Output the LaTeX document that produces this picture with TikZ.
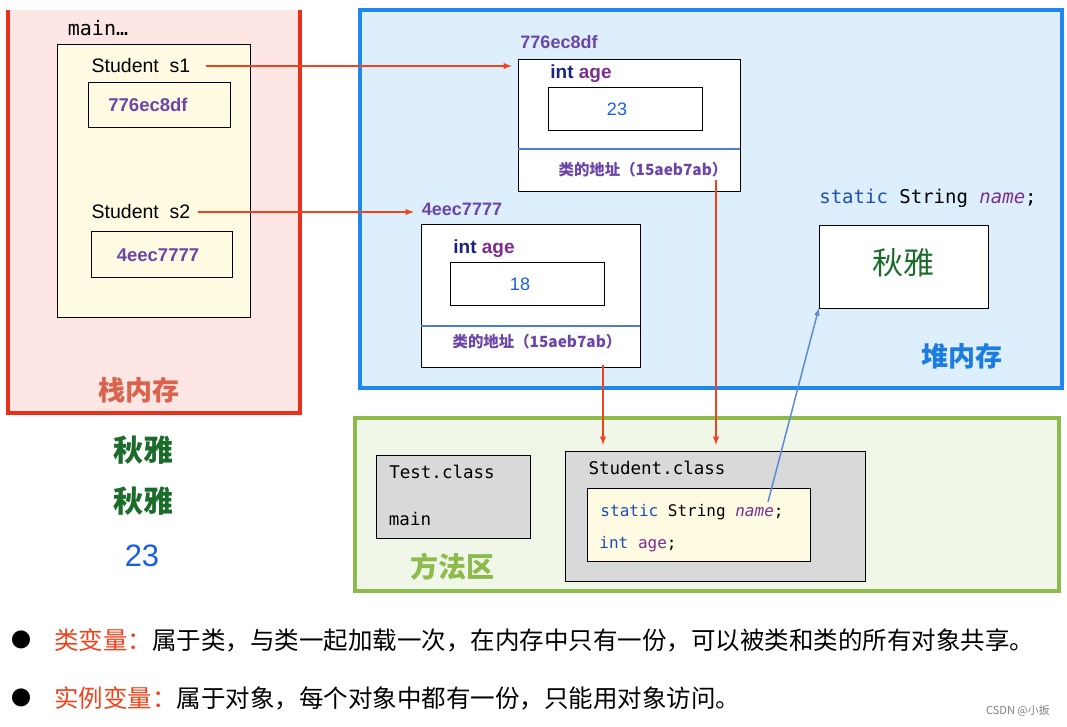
\documentclass[tikz,border=0pt]{standalone}
\usepackage{fontspec}
\setmainfont{Liberation Sans}
\setmonofont{DejaVu Sans Mono}
\newfontfamily\cjk{Noto Sans CJK SC}
\usetikzlibrary{positioning,arrows,calc}
\tikzset{every picture/.style={>=latex,thick}}
\definecolor{stackred}{HTML}{E8301A}
\definecolor{stackfill}{HTML}{FDE6E4}
\definecolor{stacktxt}{HTML}{D9634C}
\definecolor{heapblue}{HTML}{1E88F0}
\definecolor{heapfill}{HTML}{DDEEFC}
\definecolor{heaptxt}{HTML}{1C7CE0}
\definecolor{methgreen}{HTML}{8CBB4B}
\definecolor{methfill}{HTML}{F0F6E8}
\definecolor{framefill}{HTML}{FFFBE3}
\definecolor{boxgray}{HTML}{D9D9D9}
\definecolor{addrpurple}{HTML}{6B46A8}
\definecolor{kwnavy}{HTML}{1A237E}
\definecolor{varpurple}{HTML}{7B2E8E}
\definecolor{kwblue}{HTML}{1F4FB0}
\definecolor{arrowred}{HTML}{F2411B}
\definecolor{arrowblue}{HTML}{5B8CD6}
\definecolor{namegreen}{HTML}{1B6B2B}
\definecolor{numblue}{HTML}{1A5FE0}
\definecolor{sepblue}{HTML}{4A7FD0}
\newcommand{\fsz}[1]{\fontsize{#1}{#1}\selectfont}
\tikzset{txt/.style={inner sep=0pt}}
\tikzset{box/.style={draw=black,thin,fill=white,inner sep=0pt}}
\tikzset{area/.style={line width=4pt}}
\tikzset{ref/.style={->,arrowred,line width=1.8pt}}

\begin{document}
\begin{tikzpicture}[x=1pt,y=-1pt]
  \useasboundingbox (0,0) rectangle (1067,726);
  % stack
  \fill[stackfill] (8,10) rectangle (300,413);
  \draw[area,stackred] (8,10) -- (8,413) -- (300,413) -- (300,10);
  \node[txt,font=\ttfamily\fsz{20}] (mainlbl) at (98,28) {main…};
  \node[box,fill=framefill,minimum width=193pt,minimum height=273pt] (frame) at (153.5,180.5) {};
  \node[txt,font=\fsz{19.5}] (s1) at (141,66) {Student\ \ s1};
  \node[box,fill=framefill,minimum width=142pt,minimum height=45pt] (s1val) at (159,104.5) {};
  \node[txt,font=\bfseries\fsz{18.5},text=addrpurple] (s1addr) at (148,105) {776ec8df};
  \node[txt,font=\fsz{19.5}] (s2) at (141,212) {Student\ \ s2};
  \node[box,fill=framefill,minimum width=141pt,minimum height=46pt] (s2val) at (161.5,254) {};
  \node[txt,font=\bfseries\fsz{18.5},text=addrpurple] (s2addr) at (158,255) {4eec7777};
  \node[txt,font=\cjk\bfseries\fsz{27},text=stacktxt] (stacklbl) at (139,390) {栈内存};
  \node[txt,font=\cjk\bfseries\fsz{30},text=namegreen] (out1) at (143,450) {秋雅};
  \node[txt,font=\cjk\bfseries\fsz{30},text=namegreen] (out2) at (143,501) {秋雅};
  \node[txt,font=\fsz{31},text=numblue] (out3) at (142,556) {23};

  % heap
  \fill[heapfill] (360,10) rectangle (1062,388);
  \draw[area,heapblue] (360,10) rectangle (1062,388);
  \node[txt,font=\bfseries\fsz{18},text=addrpurple] (obj1lbl) at (559,42) {776ec8df};
  \node[box,minimum width=222pt,minimum height=132pt] (obj1) at (629,125) {};
  \draw[sepblue,line width=1.5pt] (518,149) -- (740,149);
  \node[txt,font=\bfseries\fsz{19}] (age1) at (581,74) {\textcolor{kwnavy}{int} \textcolor{varpurple}{age}};
  \node[box,minimum width=154pt,minimum height=43pt] (val1) at (625,108.5) {};
  \node[txt,font=\fsz{18},text=numblue] (num1) at (617,109) {23};
  \node[txt,font=\cjk\bfseries\fsz{15.4},text=addrpurple] (addr1) at (643,170) {类的地址（15aeb7ab）};

  \node[txt,font=\bfseries\fsz{18},text=addrpurple] (obj2lbl) at (462,209) {4eec7777};
  \node[box,minimum width=219pt,minimum height=143pt] (obj2) at (530.5,295.5) {};
  \draw[sepblue,line width=1.5pt] (421,326) -- (640,326);
  \node[txt,font=\bfseries\fsz{19}] (age2) at (484,249) {\textcolor{kwnavy}{int} \textcolor{varpurple}{age}};
  \node[box,minimum width=154pt,minimum height=43pt] (val2) at (527,283.5) {};
  \node[txt,font=\fsz{18},text=numblue] (num2) at (520,284) {18};
  \node[txt,font=\cjk\bfseries\fsz{15.4},text=addrpurple] (addr2) at (537,342) {类的地址（15aeb7ab）};

  \node[txt,font=\ttfamily\fsz{19}] (statichp) at (928,198) {\textcolor{kwblue}{static} String \textcolor{varpurple}{\itshape name};};
  \node[box,minimum width=169pt,minimum height=83pt] (namebox) at (903.5,266.5) {};
  \node[txt,font=\cjk\fsz{31},text=namegreen] (nameval) at (903,263) {秋雅};
  \node[txt,font=\cjk\bfseries\fsz{27},text=heaptxt] (heaplbl) at (962,356) {堆内存};

  % method area
  \fill[methfill] (355,418) rectangle (1059,591);
  \draw[area,methgreen] (355,418) rectangle (1059,591);
  \node[box,fill=boxgray,minimum width=154pt,minimum height=83pt] (tclass) at (453,496.5) {};
  \node[txt,font=\ttfamily\fsz{17.5}] (tname) at (442,472) {Test.class};
  \node[txt,font=\ttfamily\fsz{17.5}] (tmain) at (410,519) {main};
  \node[box,fill=boxgray,minimum width=300pt,minimum height=130pt] (sclass) at (715,516) {};
  \node[txt,font=\ttfamily\fsz{17.5}] (sname) at (657,468) {Student.class};
  \node[box,fill=framefill,minimum width=223pt,minimum height=73pt] (sfields) at (698.5,524.5) {};
  \node[txt,font=\ttfamily\fsz{16}] (sstatic) at (692,512) {\textcolor{kwblue}{static} String \textcolor{varpurple}{\itshape name};};
  \node[txt,font=\ttfamily\fsz{16}] (sage) at (638,544) {\textcolor{kwblue}{int} \textcolor{varpurple}{age};};
  \node[txt,font=\cjk\bfseries\fsz{28},text=methgreen] (methlbl) at (452,567) {方法区};

  % references
  \draw[ref,shorten <=15pt,shorten >=6pt] (s1.east) -- (s1.east -| obj1.west);
  \draw[ref,shorten <=7pt,shorten >=7pt] (s2.east) -- (s2.east -| obj2.west);
  \coordinate (a1) at (716,180);
  \coordinate (a2) at (603,365);
  \draw[ref,shorten >=6pt] (a1) -- (a1 |- sclass.north);
  \draw[ref,shorten >=6pt] (a2) -- (a2 |- sclass.north);
  \coordinate (namept) at (768,502);
  \draw[->,arrowblue,line width=1.5pt] (namept) -- (namebox.south west);

  % notes
  \node[txt,font=\cjk\fsz{20}] (dot1) at (22,640) {●};
  \node[txt,anchor=west,font=\cjk\fsz{24.5}] (note1) at (54,640) {\textcolor{arrowred}{类变量：}属于类，与类一起加载一次，在内存中只有一份，可以被类和类的所有对象共享。};
  \node[txt,font=\cjk\fsz{20}] (dot2) at (22,698) {●};
  \node[txt,anchor=west,font=\cjk\fsz{24.5}] (note2) at (54,698) {\textcolor{arrowred}{实例变量：}属于对象，每个对象中都有一份，只能用对象访问。};
  \node[txt,font=\cjk\fsz{11},text=gray] (mark) at (1018,711) {CSDN @小扳};
\end{tikzpicture}
\end{document}
